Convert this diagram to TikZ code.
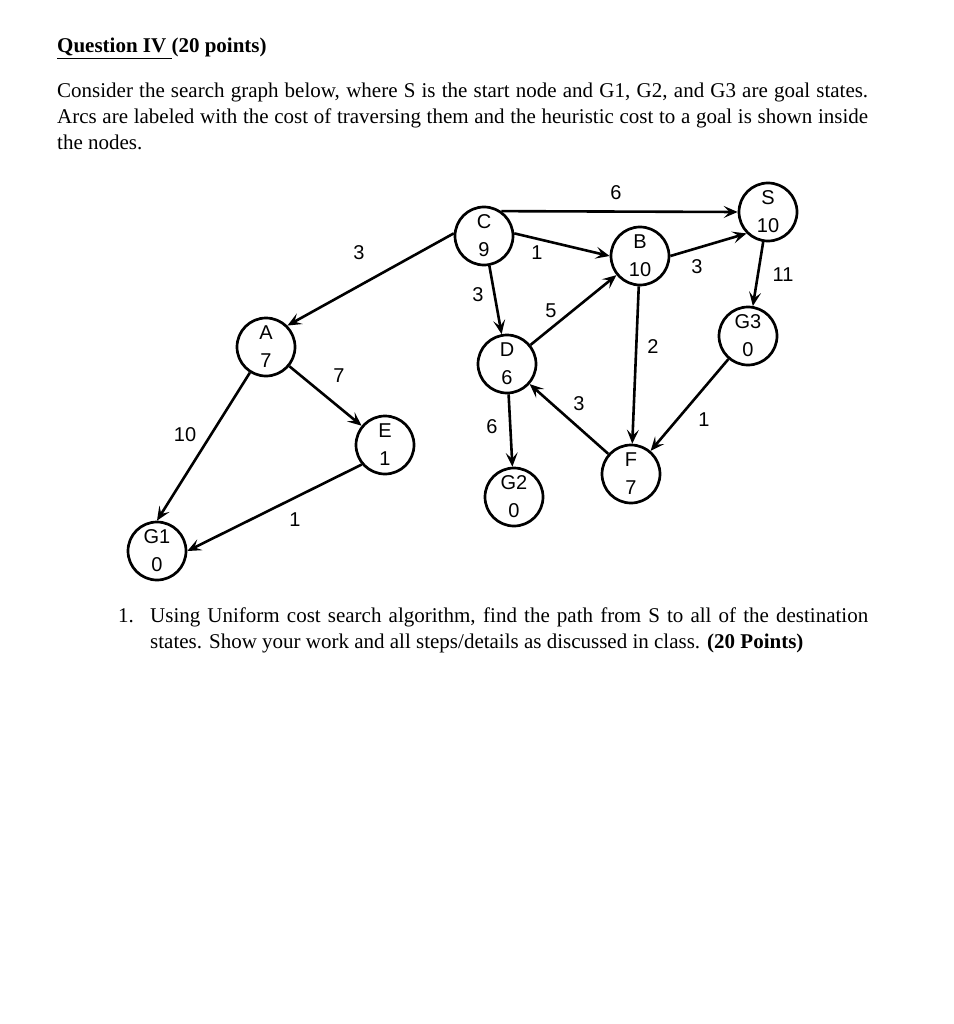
\documentclass[tikz,border=0pt]{standalone}
\usepackage{fontspec}
\setmainfont{Liberation Serif}
\newfontfamily\gfont{Liberation Sans}
\usetikzlibrary{arrows.meta}
\begin{document}
\begin{tikzpicture}[x=1pt,y=-1pt,
  state/.style={circle, draw, line width=2.7pt, minimum size=58pt, inner sep=0pt, align=center, font=\gfont\fontsize{20}{28}\selectfont},
  arc/.style={line width=2.6pt, -{Stealth[length=14pt,width=12pt,inset=6pt]}},
  cost/.style={font=\gfont\fontsize{20}{24}\selectfont, inner sep=0pt},
  body/.style={font=\fontsize{21}{26}\selectfont, inner sep=0pt}]
\useasboundingbox (0,0) rectangle (953,1024);
\fill[white] (0,0) rectangle (953,1024);

% text
\node[body, anchor=base west, font=\bfseries\fontsize{21}{26}\selectfont] (title) at (57,53) {\underline{Question IV\ }(20 points)};
\node[body, anchor=north west, text width=811pt, align=justify] (intro) at (57,82.5) {Consider the search graph below, where S is the start node and G1, G2, and G3 are goal states.\linebreak Arcs are labeled with the cost of traversing them and the heuristic cost to a goal is shown inside\linebreak the nodes.};
\node[body, anchor=base west] (qnum) at (118,622) {1.};
\node[body, anchor=north west, text width=718pt, align=justify] (qtext) at (150,607.5) {Using Uniform cost search algorithm, find the path from S to all of the destination\linebreak states. Show your work and all steps/details as discussed in class. \textbf{(20 Points)}};

% states
\node[state] (S) at (768,212) {S\\10};
\node[state] (C) at (484,236) {C\\9};
\node[state] (B) at (640,256) {B\\10};
\node[state] (A) at (266,347) {A\\7};
\node[state] (D) at (507,364) {D\\6};
\node[state] (G3) at (748,336) {G3\\0};
\node[state] (E) at (385,445) {E\\1};
\node[state] (F) at (631,474) {F\\7};
\node[state] (G2) at (514,497) {G2\\0};
\node[state] (G1) at (157,551) {G1\\0};

% arcs
\draw[arc] (C.55) -- (S.west);
\draw[arc] (C.5) -- (B.west);
\draw[arc] (B.east) -- (S.225);
\draw[arc] (S) -- (G3);
\draw[arc] (C.175) -- (A.45);
\draw[arc] (C) -- (D);
\draw[arc] (D) -- (B);
\draw[arc] (B) -- (F);
\draw[arc] (G3) -- (F);
\draw[arc] (F) -- (D);
\draw[arc] (D) -- (G2);
\draw[arc] (A) -- (E);
\draw[arc] (A) -- (G1.north);
\draw[arc] (E.220) -- (G1.east);

% costs
\node[cost] (cCS) at (616,193) {6};
\node[cost] (cCB) at (537,253) {1};
\node[cost] (cBS) at (697,267) {3};
\node[cost] (cSG3) at (783,275) {11};
\node[cost] (cCA) at (359,253) {3};
\node[cost] (cCD) at (478,295) {3};
\node[cost] (cDB) at (551,311) {5};
\node[cost] (cBF) at (653,347) {2};
\node[cost] (cG3F) at (704,420) {1};
\node[cost] (cFD) at (579,404) {3};
\node[cost] (cDG2) at (492,427) {6};
\node[cost] (cAE) at (339,376) {7};
\node[cost] (cAG1) at (185,435) {10};
\node[cost] (cEG1) at (295,520) {1};
\end{tikzpicture}
\end{document}
